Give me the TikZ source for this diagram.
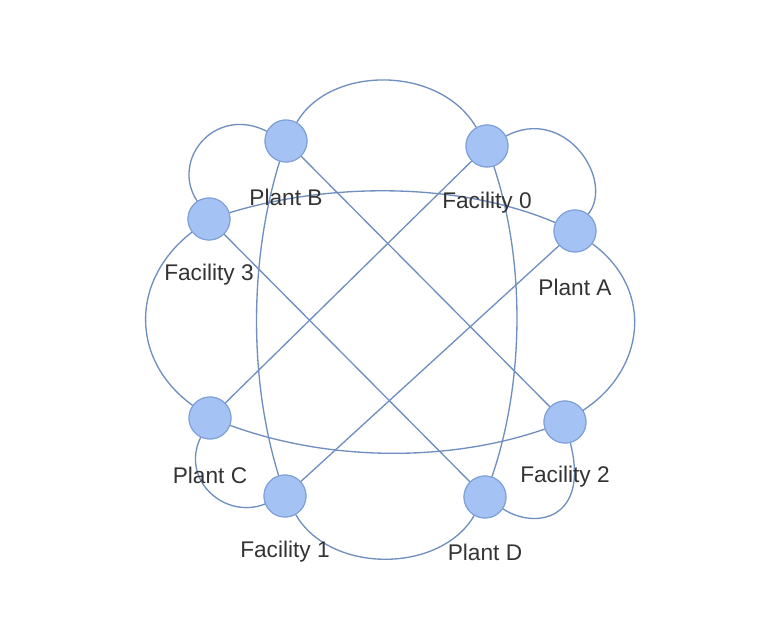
\documentclass[tikz,border=0pt]{standalone}
\usepackage{fontspec}
\setmainfont{Liberation Sans}
\definecolor{nfill}{HTML}{A4C2F4}
\definecolor{ndraw}{HTML}{7FA0D8}
\definecolor{edge}{HTML}{6F8FC0}
\begin{document}
\begin{tikzpicture}[x=0.75pt,y=-0.75pt,
  vert/.style={circle,fill=nfill,draw=ndraw,line width=0.8pt,minimum size=31.5pt,inner sep=0pt},
  lab/.style={font=\fontsize{17}{20}\selectfont,text=black!80},
  conn/.style={draw=edge,line width=1pt}]
\useasboundingbox (0,0) rectangle (764,638);
\node[vert] (pb) at (286,141) {};
\node[vert] (f0) at (487,146) {};
\node[vert] (pa) at (575,231) {};
\node[vert] (f2) at (565,422) {};
\node[vert] (pd) at (485,497) {};
\node[vert] (f1) at (285,496) {};
\node[vert] (pc) at (210,418) {};
\node[vert] (f3) at (209,219) {};
\begin{scope}[on background layer/.style={}]
\end{scope}
\path[conn] (pb) .. controls (330,65) and (440,65) .. (f0);
\path[conn] (pb) .. controls (215,105) and (170,160) .. (f3);
\path[conn] (f0) .. controls (565,105) and (615,180) .. (pa);
\path[conn] (pa) .. controls (655,290) and (645,370) .. (f2);
\path[conn] (f2) .. controls (590,520) and (535,530) .. (pd);
\path[conn] (pd) .. controls (440,574) and (330,574) .. (f1);
\path[conn] (f1) .. controls (225,520) and (180,480) .. (pc);
\path[conn] (pc) .. controls (130,360) and (130,280) .. (f3);
\path[conn] (pc) .. controls (330,462) and (450,462) .. (f2);
\path[conn] (f3) .. controls (330,182) and (460,182) .. (pa);
\path[conn] (pb) .. controls (249,260) and (249,380) .. (f1);
\path[conn] (f0) .. controls (525,260) and (525,380) .. (pd);
\path[conn] (pb) -- (f2);
\path[conn] (f0) -- (pc);
\path[conn] (pa) -- (f1);
\path[conn] (f3) -- (pd);
\foreach \n/\x/\y in {pb/286/141,f0/487/146,pa/575/231,f2/565/422,pd/485/497,f1/285/496,pc/210/418,f3/209/219}
  \node[vert] at (\x,\y) {};
\node[lab] (lpb) at (286,197) {Plant B};
\node[lab] (lf0) at (487,203) {Facility 0};
\node[lab] (lpa) at (575,287) {Plant A};
\node[lab] (lf2) at (565,477) {Facility 2};
\node[lab] (lpd) at (485,552) {Plant D};
\node[lab] (lf1) at (285,552) {Facility 1};
\node[lab] (lpc) at (210,475) {Plant C};
\node[lab] (lf3) at (209,275) {Facility 3};
\end{tikzpicture}
\end{document}
